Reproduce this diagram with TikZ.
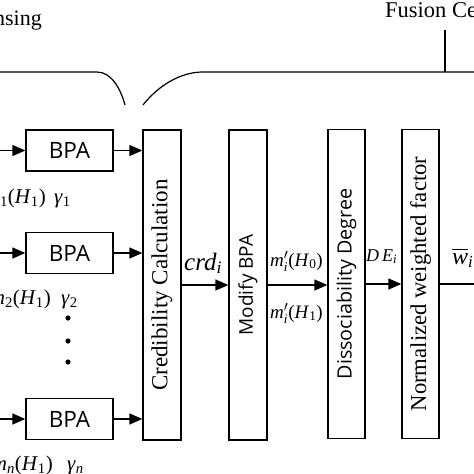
\documentclass[tikz,border=0pt]{standalone}
\usepackage{amsmath}
\usepackage{fontspec}
\setmainfont{Liberation Serif}
\setsansfont{Open Sans}
\usetikzlibrary{arrows.meta}
\newcommand{\vi}[1]{\textit{#1}}
\tikzset{
  box/.style={draw, line width=1.3pt, inner sep=0pt},
  arr/.style={line width=1.3pt, -{Triangle[length=13pt,width=11pt]}},
  ln/.style={line width=1.3pt},
  brace/.style={line width=1.2pt},
  vtext/.style={rotate=90, inner sep=0pt},
  lab/.style={inner sep=0pt},
  bpafont/.style={font=\sffamily\fontsize{22.5}{26}\selectfont},
  mlab/.style={lab, font=\fontsize{21}{24}\selectfont},
}
\begin{document}
\begin{tikzpicture}[x=1pt,y=-1pt]
\useasboundingbox (0,0) rectangle (474,474);
\clip (0,0) rectangle (474,474);
% headings
\node[lab, anchor=base east, font=\fontsize{22}{26}\selectfont] (sens) at (42,25) {Sensing};
\node[lab, anchor=base west, font=\fontsize{22.5}{26}\selectfont] (fus) at (385,17) {Fusion Center};
% braces
\coordinate (lb0) at (-20,72);
\coordinate (lb1) at (97,72);
\coordinate (lb2) at (125,105);
\coordinate (rb0) at (143,105);
\coordinate (rb1) at (203,72);
\coordinate (rb2) at (490,72);
\coordinate (tk0) at (445,72);
\coordinate (tk1) at (445,30);
\draw[brace] (lb0) -- (lb1) .. controls (112,72) and (121,90) .. (lb2);
\draw[brace] (rb0) .. controls (158,86) and (180,72) .. (rb1) -- (rb2);
\draw[brace] (tk0) -- (tk1);
% BPA boxes
\node[box, minimum width=87pt, minimum height=41pt, bpafont] (bpa1) at (69.5,150.5) {BPA};
\node[box, minimum width=87pt, minimum height=41pt, bpafont] (bpa2) at (69.5,253) {BPA};
\node[box, minimum width=87pt, minimum height=41pt, bpafont] (bpan) at (69.5,419) {BPA};
% inputs
\coordinate (in1) at (-10,150.5);
\coordinate (in2) at (-10,253);
\coordinate (inn) at (-10,419);
\draw[arr] (in1) -- (bpa1.west);
\draw[arr] (in2) -- (bpa2.west);
\draw[arr] (inn) -- (bpan.west);
% labels under BPA
\node[mlab, anchor=base east] (m1) at (46,203) {\vi{m}\textsubscript{1}(\vi{H}\textsubscript{1})};
\node[mlab, anchor=base west] (g1) at (54,203) {\vi{γ}\textsubscript{1}};
\node[mlab, anchor=base east] (m2) at (51,304) {\vi{m}\textsubscript{2}(\vi{H}\textsubscript{1})};
\node[mlab, anchor=base west] (g2) at (61,304) {\vi{γ}\textsubscript{2}};
\node[mlab, anchor=base east] (mn) at (53,470) {\vi{m}\textsubscript{\vi{n}}(\vi{H}\textsubscript{1})};
\node[mlab, anchor=base west] (gn) at (67,470) {\vi{γ}\textsubscript{\vi{n}}};
% dots
\fill (68,318) circle (2.6pt);
\fill (68,341) circle (2.6pt);
\fill (68,362) circle (2.6pt);
% big boxes
\node[box, minimum width=38pt, minimum height=310pt] (cred) at (162,285) {};
\node[box, minimum width=38pt, minimum height=310pt] (mod) at (248,285) {};
\node[box, minimum width=37pt, minimum height=309pt] (diss) at (346.5,284) {};
\node[box, minimum width=37pt, minimum height=309pt] (norm) at (420.5,284) {};
\node[vtext, font=\fontsize{23}{26}\selectfont] (credt) at (cred.center) {Credibility Calculation};
\node[vtext, font=\sffamily\fontsize{19}{22}\selectfont] (modt) at (mod.center) {Modify BPA};
\node[vtext, font=\sffamily\fontsize{19.7}{22}\selectfont] (disst) at (diss.center) {Dissociability Degree};
\node[vtext, font=\fontsize{22.7}{26}\selectfont] (normt) at (norm.center) {Normalized weighted factor};
% arrows BPA -> cred
\draw[arr] (bpa1.east) -- (bpa1.east -| cred.west);
\draw[arr] (bpa2.east) -- (bpa2.east -| cred.west);
\draw[arr] (bpan.east) -- (bpan.east -| cred.west);
% chain
\draw[arr] (cred.east) -- (cred.east -| mod.west);
\draw[arr] (mod.east) -- (mod.east -| diss.west);
\draw[arr] (diss.east) -- (diss.east -| norm.west);
\coordinate (out) at (490,284);
\draw[ln] (norm.east) -- (out);
% chain labels
\node[lab, anchor=base west, font=\fontsize{25}{28}\selectfont] (crd) at (184,270) {\vi{crd}\textsubscript{\vi{i}}};
\node[lab, anchor=base west, font=\fontsize{19}{22}\selectfont] (mh0) at (270,266) {$\vi{m}'_{\vi{i}}$(\vi{H}\textsubscript{0})};
\node[lab, anchor=base west, font=\fontsize{19}{22}\selectfont] (mh1) at (270,318) {$\vi{m}'_{\vi{i}}$(\vi{H}\textsubscript{1})};
\node[lab, anchor=base west, font=\fontsize{18}{20}\selectfont] (de) at (366,261) {\vi{D}\,\vi{E}\textsubscript{\vi{i}}};
\node[lab, anchor=base west, font=\fontsize{24}{26}\selectfont] (wb) at (452,264) {$\overline{\vi{w}}_{\vi{i}}$};
\end{tikzpicture}
\end{document}
